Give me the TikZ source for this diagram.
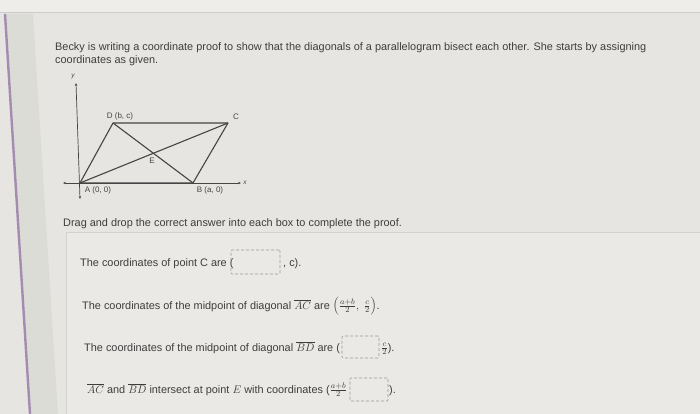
\documentclass[tikz,border=0pt]{standalone}
\usepackage{fontspec}
\setmainfont{Liberation Sans}
\usetikzlibrary{arrows.meta}
\definecolor{bg}{HTML}{E6E5E1}
\definecolor{topband}{HTML}{EEEDEA}
\definecolor{strip}{HTML}{DCDCD7}
\definecolor{panel}{HTML}{EAE9E6}
\definecolor{purp}{HTML}{A48BB0}
\definecolor{txt}{HTML}{3E3E3E}
\definecolor{fig}{HTML}{454545}
\tikzset{
  body/.style={anchor=base west, inner sep=0pt, text=txt, font=\fontsize{10.9}{12}\selectfont},
  lbl/.style={inner sep=0pt, text=fig, font=\fontsize{8}{9}\selectfont},
  edge/.style={draw=fig, line width=1.1pt},
  axis/.style={draw=fig, line width=0.7pt},
  dropbox/.style={draw=gray!80, densely dashed, line width=0.6pt, rounded corners=1pt},
}
\begin{document}
\begin{tikzpicture}[x=1pt,y=-1pt]
\useasboundingbox (0,0) rectangle (700,414);
\fill[bg] (0,0) rectangle (700,414);
\fill[topband] (0,0) rectangle (700,12);
\draw[gray!40, line width=0.4pt] (0,12.5) -- (700,12.5);
% left strip
\fill[strip] (5,14) -- (33,14) -- (58,414) -- (30,414) -- cycle;
\draw[purp, line width=2.4pt] (5,14) -- (30,414);
% answer panel
\fill[panel] (66,232) rectangle (700,414);
\draw[gray!35, line width=0.5pt] (66,414) -- (66,232) -- (700,232);

% intro text
\node[body] (t1) at (55,51) {Becky is writing a coordinate proof to show that the diagonals of a parallelogram bisect each other. She starts by assigning};
\node[body] (t2) at (55,64) {coordinates as given.};

% figure
\coordinate (A) at (80,183);
\coordinate (B) at (193,183);
\coordinate (C) at (228,123);
\coordinate (D) at (113,123);
\coordinate (E) at (154,153);
\coordinate (xl) at (63,183);
\coordinate (xr) at (241,183);
\coordinate (yt) at (76,83);
\coordinate (yb) at (80,199);
\draw[axis, {Stealth[length=3pt,width=2.4pt]}-{Stealth[length=3pt,width=2.4pt]}] (xl) -- (xr);
\draw[axis, {Stealth[length=3pt,width=2.4pt]}-{Stealth[length=3pt,width=2.4pt]}] (yb) -- (yt);
\draw[edge, line join=round] (A) -- (B) -- (C) -- (D) -- cycle;
\draw[edge] (A) -- (C);
\draw[edge] (B) -- (D);
\node[lbl, font=\fontsize{6.5}{7}\selectfont\itshape] (ylab) at (73,76) {y};
\node[lbl, font=\fontsize{6.5}{7}\selectfont\itshape] (xlab) at (245,183) {x};
\node[lbl] (Dl) at (120,116) {D (b, c)};
\node[lbl] (Cl) at (236,117) {C};
\node[lbl] (El) at (152,161) {E};
\node[lbl] (Al) at (98,190.5) {A (0, 0)};
\node[lbl] (Bl) at (210,190.5) {B (a, 0)};

\node[body] (drag) at (63,226) {Drag and drop the correct answer into each box to complete the proof.};

% row 1
\node[body] (r1) at (80,266) {The coordinates of point C are (};
\node[dropbox, minimum width=49pt, minimum height=24pt, inner sep=0pt] (b1) at (255.5,262) {};
\node[body] (r1e) at (283,266) {, c).};

% row 2
\node[body] (r2) at (82,309) {The coordinates of the midpoint of diagonal $\overline{AC}$ are $\left(\frac{a+b}{2},\;\frac{c}{2}\right)$.};

% row 3
\node[body] (r3) at (84,351) {The coordinates of the midpoint of diagonal $\overline{BD}$ are (};
\node[dropbox, minimum width=37pt, minimum height=22pt, inner sep=0pt] (b3) at (360.5,347) {};
\node[body] (r3e) at (381,351) {$\frac{c}{2}$).};

% row 4
\node[body] (r4) at (87,393) {$\overline{AC}$ and $\overline{BD}$ intersect at point $E$ with coordinates ($\frac{a+b}{2}$};
\node[dropbox, minimum width=38pt, minimum height=23pt, inner sep=0pt] (b4) at (369,389.5) {};
\node[body] (r4e) at (389,393) {).};
\end{tikzpicture}
\end{document}
